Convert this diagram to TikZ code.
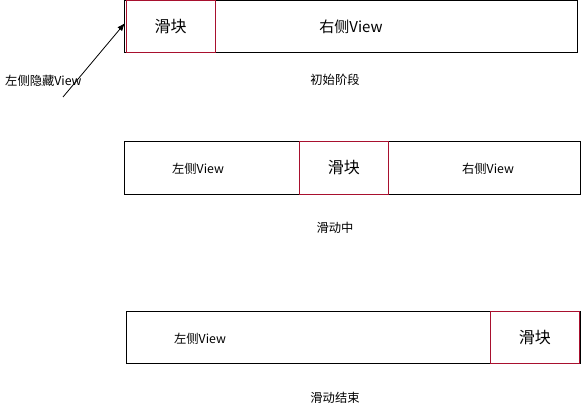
\documentclass[tikz,border=0pt]{standalone}
\usepackage{fontspec}
\setmainfont{Noto Sans CJK SC}
\usetikzlibrary{arrows.meta}
\definecolor{sred}{HTML}{A8102E}
\tikzset{
  outerbox/.style={draw=black, line width=1pt, rectangle, inner sep=0pt},
  slider/.style={draw=sred, line width=1pt, rectangle, inner sep=0pt, minimum width=89pt, font=\fontsize{16pt}{18pt}\selectfont},
  lbl/.style={inner sep=0pt, font=\fontsize{12.3pt}{14pt}\selectfont},
  biglbl/.style={inner sep=0pt, font=\fontsize{15pt}{17pt}\selectfont},
  conn/.style={draw=black, line width=0.8pt, -{Latex[length=8pt,width=6pt]}}
}
\begin{document}
\begin{tikzpicture}[x=1pt,y=-1pt]
\useasboundingbox (0,0) rectangle (582,412);
% stage 1
\node[outerbox, minimum width=453.5pt, minimum height=52.5pt] (outer1) at (350.75,26.75) {};
\node[slider, minimum height=52pt] (slider1) at (170.5,27) {滑块};
\node[biglbl] (right1) at (351,27) {右侧View};
\node[lbl] (stage1) at (335,80) {初始阶段};
\node[lbl, anchor=west] (hidden) at (5,81) {左侧隐藏View};
\coordinate (a0) at (63,97);
\coordinate (a1) at (125,23);
\draw[conn] (a0) -- (a1);
% stage 2
\node[outerbox, minimum width=455.7pt, minimum height=52.3pt] (outer2) at (352.2,167.9) {};
\node[slider, minimum height=52pt] (slider2) at (343.8,168) {滑块};
\node[lbl] (left2) at (198,169) {左侧View};
\node[lbl] (right2) at (488,169) {右侧View};
\node[lbl] (stage2) at (335,228) {滑动中};
% stage 3
\node[outerbox, minimum width=454pt, minimum height=51.6pt] (outer3) at (353,337.5) {};
\node[slider, minimum height=51.6pt] (slider3) at (534.8,337.5) {滑块};
\node[lbl] (left3) at (200,339) {左侧View};
\node[lbl] (stage3) at (335,398) {滑动结束};
\end{tikzpicture}
\end{document}
